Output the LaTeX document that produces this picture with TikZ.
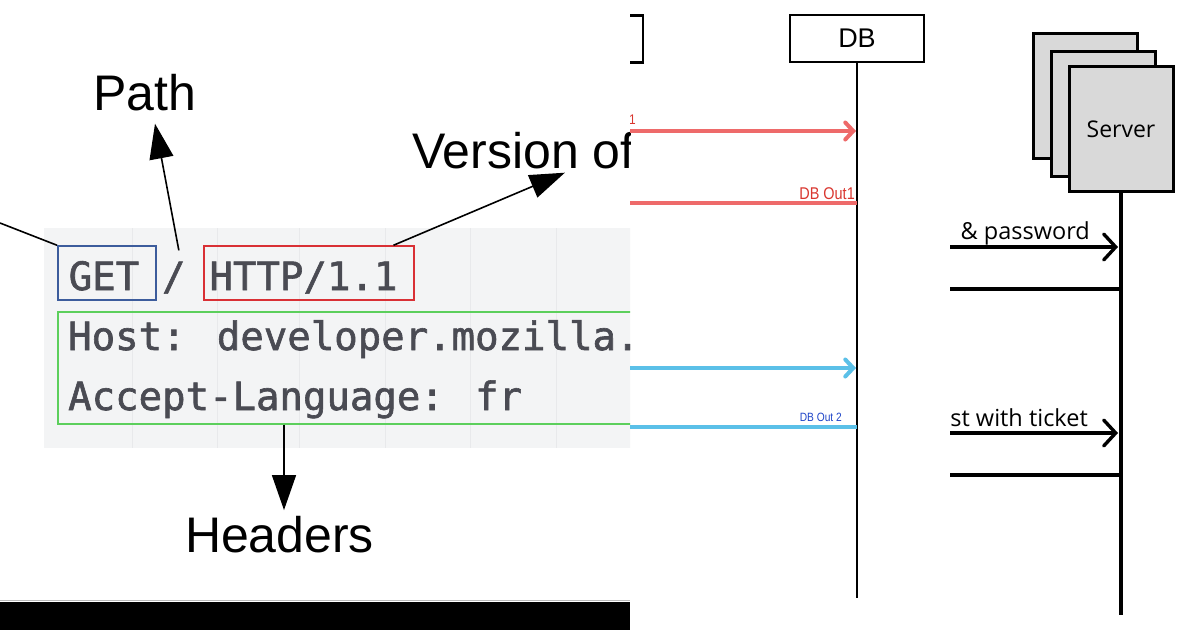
\documentclass[tikz,border=0pt]{standalone}
\usepackage{fontspec}
\setmainfont{Liberation Sans}
\newfontfamily\codefont[BoldFont={DejaVu Sans Mono}, BoldFeatures={FakeBold=1.6}]{DejaVu Sans Mono}
\newfontfamily\uifont{Open Sans}
\newfontfamily\handfont[FakeStretch=0.85]{Liberation Sans}
\usetikzlibrary{arrows.meta}
\definecolor{codebg}{HTML}{F3F4F5}
\definecolor{codegrid}{HTML}{E8E9EB}
\definecolor{codetxt}{HTML}{4A4B53}
\definecolor{getblue}{HTML}{3C5C9C}
\definecolor{httpred}{HTML}{D93035}
\definecolor{hdrgreen}{HTML}{5CCF5C}
\definecolor{redline}{HTML}{EE6A6A}
\definecolor{redtxt}{HTML}{D9362F}
\definecolor{blueline}{HTML}{5BC0E8}
\definecolor{bluetxt}{HTML}{1E44C8}
\definecolor{servergray}{HTML}{D9D9D9}
\tikzset{
  codetext/.style={font=\codefont\bfseries\fontsize{39}{39}\selectfont, text=codetxt},
  hlbox/.style={codetext, line width=1.5pt, anchor=base west, text height=34pt, text depth=0pt, inner ysep=10pt, align=left},
  biglabel/.style={font=\fontsize{50}{50}\selectfont, inner xsep=0pt},
  labarrow/.style={line width=1.6pt, -{Triangle[length=35pt,width=24pt]}},
  lifebox/.style={draw, line width=2.2pt, fill=white, minimum height=47pt, inner sep=0pt},
  redarrow/.style={draw=redline, line width=4pt, -{Straight Barb[length=8pt,width=17pt,line cap=round]}},
  redmsg/.style={draw=redline, line width=4pt},
  bluearrow/.style={draw=blueline, line width=4pt, -{Straight Barb[length=8pt,width=17pt,line cap=round]}},
  bluemsg/.style={draw=blueline, line width=4pt},
  serverbox/.style={draw, line width=3pt, fill=servergray, minimum width=104pt, minimum height=125pt, inner sep=0pt, font=\uifont\fontsize{23}{23}\selectfont},
  blackarrow/.style={line width=3.4pt, -{Straight Barb[length=12pt,width=26pt,line cap=round]}},
  blackmsg/.style={line width=3.4pt},
  uilabel/.style={font=\uifont\fontsize{23.5}{23.5}\selectfont, anchor=base east, inner sep=0pt},
}
\begin{document}
\begin{tikzpicture}[x=1pt,y=-1pt]
\useasboundingbox (0,0) rectangle (1200,630);
\fill[white] (0,0) rectangle (1200,630);

% ---------------- left panel ----------------
\begin{scope}
\clip (0,0) rectangle (630,630);
\fill[codebg] (44,228) rectangle (640,448);
\foreach \gx in {132,217,299,385,470,556}
  \draw[codegrid, line width=1pt] (\gx,228) -- (\gx,448);
\node[hlbox, draw=getblue, inner xsep=11pt, text width=76pt] (get) at (57,290) {GET};
\node[codetext, anchor=base west, inner xsep=0pt, inner ysep=11pt] (slash) at (161.9,290) {/};
\node[hlbox, draw=httpred, inner xsep=5.8pt, text width=198.4pt] (http) at (203,290) {HTTP/1.1};
\node[draw=hdrgreen, line width=1.5pt, anchor=north west, minimum width=700pt, minimum height=112pt, inner sep=0pt] (hdrs) at (57,311) {};
\node[codetext, anchor=base west, inner sep=0pt] (host) at (68,350) {Host: developer.mozilla.};
\node[codetext, anchor=base west, inner sep=0pt] (accept) at (68,410) {Accept-Language: fr};

\node[biglabel, anchor=base, inner ysep=13pt] (path) at (144.5,110) {Path};
\node[biglabel, anchor=base west, inner ysep=4pt] (ver) at (412,168) {Version of};
\node[biglabel, anchor=base, inner ysep=5.5pt] (hdrtitle) at (279.5,552) {Headers};

\coordinate (methodlab) at (0,223);
\draw[line width=1.6pt] (methodlab) -- (get.north west);
\draw[labarrow] ([xshift=5pt]slash.north) -- ([xshift=10.5pt]path.south);
\draw[labarrow] ([xshift=-21pt]http.north east) -- ([xshift=41.5pt]ver.south);
\draw[labarrow] ([xshift=227pt]hdrs.south west) -- ([xshift=4.5pt]hdrtitle.north);

\draw[gray!55, line width=1.5pt] (0,600.5) -- (630,600.5);
\fill[black] (0,602) rectangle (630,630);
\end{scope}

% ---------------- middle panel ----------------
\begin{scope}
\clip (630,0) rectangle (950,630);
\node[lifebox, minimum width=143pt] (client) at (571.5,39) {};
\node[lifebox, minimum width=134pt, font=\fontsize{27}{27}\selectfont] (db) at (857,38.5) {DB};
\coordinate (dbend) at (857,598);
\draw[line width=2.2pt] (db.south) -- (dbend);

\coordinate (cin1) at (620,131);
\coordinate (dbin1) at (856,131);
\coordinate (cout1) at (620,203);
\coordinate (dbout1) at (857,203);
\coordinate (cin2) at (620,368);
\coordinate (dbin2) at (856,368);
\coordinate (cout2) at (620,427);
\coordinate (dbout2) at (857,427);
\draw[redarrow] (cin1) -- (dbin1);
\draw[redmsg] (dbout1) -- (cout1);
\draw[bluearrow] (cin2) -- (dbin2);
\draw[bluemsg] (dbout2) -- (cout2);

\node[anchor=base west, text=redtxt, font=\handfont\fontsize{14}{14}\selectfont, inner sep=0pt] (in1lab) at (629,124) {1};
\node[anchor=base east, text=redtxt, font=\handfont\fontsize{17}{17}\selectfont, inner sep=0pt] (out1lab) at (855,199) {DB Out1};
\node[anchor=base east, text=bluetxt, font=\handfont\fontsize{12}{12}\selectfont, inner sep=0pt] (out2lab) at (842,421) {DB Out 2};
\end{scope}

% ---------------- right panel ----------------
\begin{scope}
\clip (950,0) rectangle (1200,630);
\node[serverbox] (sv1) at (1085,96) {};
\node[serverbox] (sv2) at (1103.5,113.5) {};
\node[serverbox] (sv3) at (1121,129) {Server};
\coordinate (svend) at (1121,615);
\draw[line width=3.4pt] (sv3.south) -- (svend);

\coordinate (ua1) at (940,247);
\coordinate (sa1) at (1118,247);
\coordinate (ub1) at (940,289);
\coordinate (sb1) at (1121,289);
\coordinate (ua2) at (940,433);
\coordinate (sa2) at (1118,433);
\coordinate (ub2) at (940,475);
\coordinate (sb2) at (1121,475);
\draw[blackarrow] (ua1) -- (sa1);
\draw[blackmsg] (sb1) -- (ub1);
\draw[blackarrow] (ua2) -- (sa2);
\draw[blackmsg] (sb2) -- (ub2);
\node[uilabel] (pwlab) at (1090,239) {\& password};
\node[uilabel] (ticketlab) at (1088,426) {st with ticket};
\end{scope}
\end{tikzpicture}
\end{document}
